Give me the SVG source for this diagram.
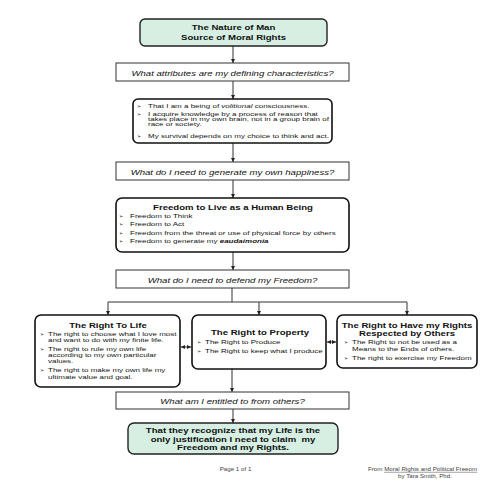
<svg xmlns="http://www.w3.org/2000/svg" width="495" height="495" viewBox="0 0 495 495">
<defs>
<marker id="ah" viewBox="0 0 6 6" refX="6" refY="3" markerWidth="4" markerHeight="4" orient="auto-start-reverse"><path d="M0,0 L6,3 L0,6 z" fill="#222"/></marker>
<style>
.box{fill:#fff;stroke:#111;stroke-width:1.6}
.mint{fill:#d7efe3;stroke:#222;stroke-width:1.4}
.q{fill:#fff;stroke:#333;stroke-width:1}
.ln{fill:none;stroke:#333;stroke-width:1}
.arr{fill:none;stroke:#333;stroke-width:1;marker-end:url(#ah)}
.dbl{fill:none;stroke:#333;stroke-width:1;marker-start:url(#ah);marker-end:url(#ah)}
text{font-family:"Liberation Sans",Arial,sans-serif;fill:#111}
.h{font-size:9.6px;font-weight:bold;text-anchor:middle}
.qt{font-size:9.6px;font-style:italic;text-anchor:middle}
.b{font-size:8px}
.m{font-family:"DejaVu Sans",sans-serif;font-size:5px}
.f{font-size:6.2px;fill:#444}
</style>
</defs>
<rect width="495" height="495" fill="#fff"/>

<g id="connectors">
<path class="arr" d="M233,46 V63"/>
<path class="arr" d="M233,81 V99"/>
<path class="arr" d="M233,143 V162"/>
<path class="arr" d="M233,180 V198"/>
<path class="arr" d="M233,252 V270"/>
<path class="ln" d="M232,288 V302 M108,302 H407"/>
<path class="arr" d="M108,302 V315"/>
<path class="arr" d="M259,302 V315"/>
<path class="arr" d="M407,302 V315"/>
<path class="dbl" d="M181,347 H191"/>
<path class="dbl" d="M327,342 H336"/>
<path class="arr" d="M232,369 V392"/>
<path class="arr" d="M233,409 V423"/>
</g>

<g id="nature">
<rect class="mint" x="140" y="19" width="187" height="27" rx="5"/>
<text class="h" transform="translate(233.5,30) scale(1,.82)">The Nature of Man</text>
<text class="h" transform="translate(233.5,40) scale(1,.82)">Source of Moral Rights</text>
</g>

<g id="q1">
<rect class="q" x="116" y="63" width="233" height="18"/>
<text class="qt" transform="translate(232.5,75.5) scale(1,.8)">What attributes are my defining characteristics?</text>
</g>

<g id="attributes">
<rect class="box" x="133" y="99" width="199" height="44" rx="5"/>
<text class="m" x="137" y="107.5">➢</text>
<text class="b" transform="translate(148,107.5) scale(1,.72)">That I am a being of <tspan font-style="italic">volitional</tspan> consciousness.</text>
<text class="m" x="137" y="116">➢</text>
<text class="b" transform="translate(148,116) scale(1,.72)">I acquire knowledge by a process of reason that</text>
<text class="b" transform="translate(148,121) scale(1,.72)">takes place in my own brain, not in a group brain of</text>
<text class="b" transform="translate(148,126) scale(1,.72)">race or society.</text>
<text class="m" x="137" y="137.5">➢</text>
<text class="b" transform="translate(148,137.5) scale(1,.72)">My survival depends on my choice to think and act.</text>
</g>

<g id="q2">
<rect class="q" x="116" y="162" width="233" height="18"/>
<text class="qt" transform="translate(232.5,174.5) scale(1,.8)">What do I need to generate my own happiness?</text>
</g>

<g id="freedom">
<rect class="box" x="116" y="198" width="233" height="54" rx="6"/>
<text class="h" transform="translate(233,210) scale(1,.8)">Freedom to Live as a Human Being</text>
<text class="m" x="119" y="217.5">➢</text>
<text class="b" transform="translate(130,217.5) scale(1,.75)">Freedom to Think</text>
<text class="m" x="119" y="226">➢</text>
<text class="b" transform="translate(130,226) scale(1,.75)">Freedom to Act</text>
<text class="m" x="119" y="234.5">➢</text>
<text class="b" transform="translate(130,234.5) scale(1,.75)">Freedom from the threat or use of physical force by others</text>
<text class="m" x="119" y="243">➢</text>
<text class="b" transform="translate(130,243) scale(1,.75)">Freedom to generate my <tspan font-weight="bold" font-style="italic">eaudaimonia</tspan></text>
</g>

<g id="q3">
<rect class="q" x="116" y="270" width="233" height="18"/>
<text class="qt" transform="translate(232.5,282.5) scale(1,.8)">What do I need to defend my Freedom?</text>
</g>

<g id="life">
<rect class="box" x="35" y="315" width="145" height="72" rx="6"/>
<text class="h" transform="translate(108,327.5) scale(1,.8)">The Right To Life</text>
<text class="m" x="40" y="335.5">➢</text>
<text class="b" transform="translate(48,335.5) scale(1,.72)">The right to choose what I love most</text>
<text class="b" transform="translate(48,342) scale(1,.72)">and want to do with my finite life.</text>
<text class="m" x="40" y="351">➢</text>
<text class="b" transform="translate(48,351) scale(1,.72)">The right to rule my own life</text>
<text class="b" transform="translate(48,357) scale(1,.72)">according to my own particular</text>
<text class="b" transform="translate(48,363) scale(1,.72)">values.</text>
<text class="m" x="40" y="372">➢</text>
<text class="b" transform="translate(48,372) scale(1,.72)">The right to make my own life my</text>
<text class="b" transform="translate(48,378.5) scale(1,.72)">ultimate value and goal.</text>
</g>

<g id="property">
<rect class="box" x="192" y="315" width="134" height="54" rx="6"/>
<text class="h" transform="translate(260,335) scale(1,.8)">The Right to Property</text>
<text class="m" x="197" y="344">➢</text>
<text class="b" transform="translate(205,344) scale(1,.75)">The Right to Produce</text>
<text class="m" x="197" y="353">➢</text>
<text class="b" transform="translate(205,353) scale(1,.75)">The Right to keep what I produce</text>
</g>

<g id="respected">
<rect class="box" x="337" y="315" width="140" height="53" rx="6"/>
<text class="h" transform="translate(407,327.5) scale(1,.8)">The Right to Have my Rights</text>
<text class="h" transform="translate(407,335.5) scale(1,.8)">Respected by Others</text>
<text class="m" x="344" y="344">➢</text>
<text class="b" transform="translate(352,344) scale(1,.72)">The Right to not be used as a</text>
<text class="b" transform="translate(352,350.5) scale(1,.72)">Means to the Ends of others.</text>
<text class="m" x="344" y="359.5">➢</text>
<text class="b" transform="translate(352,359.5) scale(1,.72)">The right to exercise my Freedom</text>
</g>

<g id="q4">
<rect class="q" x="116" y="392" width="233" height="17"/>
<text class="qt" transform="translate(232.5,403.5) scale(1,.8)">What am I entitled to from others?</text>
</g>

<g id="conclusion">
<rect class="mint" x="128" y="423" width="210" height="31" rx="6"/>
<text class="h" transform="translate(233,433) scale(1,.8)">That they recognize that my Life is the</text>
<text class="h" transform="translate(233,441.5) scale(1,.8)" xml:space="preserve">only justification I need to claim  my</text>
<text class="h" transform="translate(233,450) scale(1,.8)">Freedom and my Rights.</text>
</g>

<g id="footer">
<text class="f" text-anchor="middle" transform="translate(235.5,471) scale(1,.8)">Page 1 of 1</text>
<text class="f" transform="translate(368,471) scale(1,.8)">From <tspan text-decoration="underline">Moral Rights and Political Freeom</tspan></text>
<text class="f" text-anchor="middle" transform="translate(425,477.5) scale(1,.8)">by Tara Smith, Phd.</text>
</g>
</svg>
